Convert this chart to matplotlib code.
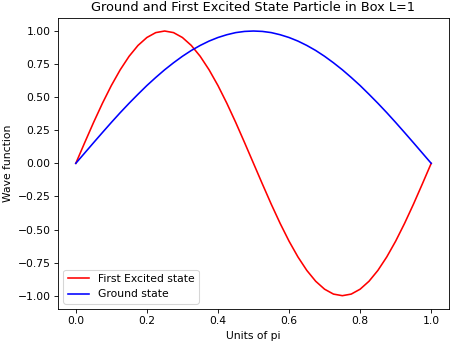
import matplotlib
matplotlib.use("Agg")
import matplotlib.pyplot as plt

# values
x_units = [0.0, 0.025, 0.05, 0.075, 0.1, 0.125, 0.15, 0.175, 0.2, 0.225,
           0.25, 0.275, 0.3, 0.325, 0.35, 0.375, 0.4, 0.425, 0.45, 0.475,
           0.5, 0.525, 0.55, 0.575, 0.6, 0.625, 0.65, 0.675, 0.7, 0.725,
           0.75, 0.775, 0.8, 0.825, 0.85, 0.875, 0.9, 0.925, 0.95, 0.975, 1.0]

first_excited = [0.0, 0.156, 0.309, 0.454, 0.588, 0.707, 0.809, 0.891, 0.951, 0.988,
                 1.0, 0.988, 0.951, 0.891, 0.809, 0.707, 0.588, 0.454, 0.309, 0.156,
                 0.0, -0.156, -0.309, -0.454, -0.588, -0.707, -0.809, -0.891, -0.951, -0.988,
                 -1.0, -0.988, -0.951, -0.891, -0.809, -0.707, -0.588, -0.454, -0.309, -0.156, 0.0]

ground = [0.0, 0.078, 0.156, 0.233, 0.309, 0.383, 0.454, 0.522, 0.588, 0.649,
          0.707, 0.760, 0.809, 0.853, 0.891, 0.924, 0.951, 0.972, 0.988, 0.997,
          1.0, 0.997, 0.988, 0.972, 0.951, 0.924, 0.891, 0.853, 0.809, 0.760,
          0.707, 0.649, 0.588, 0.522, 0.454, 0.383, 0.309, 0.233, 0.156, 0.078, 0.0]

dpi = 77
fig = plt.figure(figsize=(474 / dpi, 363 / dpi), dpi=dpi)
ax = fig.add_axes([0.1224, 0.149, 0.8248, 0.802])

ax.plot(x_units, first_excited, "r", label="First Excited state")
ax.plot(x_units, ground, "b", label="Ground state")
ax.set_title("Ground and First Excited State Particle in Box L=1")
ax.set_xlabel("Units of pi")
ax.set_ylabel("Wave function")
ax.legend(loc="lower left")

fig.savefig("out.png", dpi=dpi)
